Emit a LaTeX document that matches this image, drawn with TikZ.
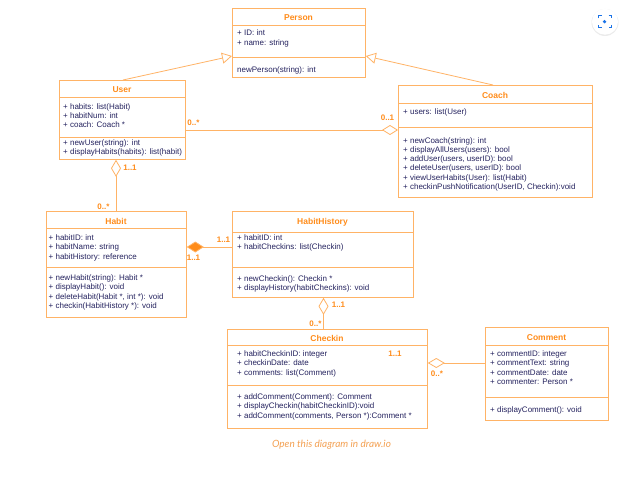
\documentclass[tikz,border=0pt]{standalone}
\usepackage{fontspec}
\setmainfont{Liberation Sans}
\newfontfamily\latofont{Lato}
\usetikzlibrary{arrows.meta,calc}
\definecolor{bord}{HTML}{FFB366}
\definecolor{ttl}{HTML}{FF8C1A}
\definecolor{ink}{HTML}{25235F}
\definecolor{linkc}{HTML}{F4A153}
\definecolor{iconblue}{HTML}{1A73E8}
\newcommand\umllines[5]{\foreach[count=\i] \t in {#5}{\node[txt] (#1-\i) at (#2,{#3+(\i-1)*#4}) {\t};}}
\newcommand\umldiv[2]{\draw[boxline] ($(#1.north west)+(0,#2)$) -- ($(#1.north east)+(0,#2)$);}
\begin{document}
\begin{tikzpicture}[x=1pt,y=-1pt,
  txt/.style={font=\fontsize{8}{9.5}\selectfont, text=ink, anchor=base west, inner sep=0},
  ttlstyle/.style={font=\fontsize{8.5}{10}\selectfont\bfseries, text=ttl, anchor=base, inner sep=0},
  mult/.style={font=\fontsize{8}{10}\selectfont\bfseries, text=ttl, anchor=base, inner sep=0},
  umlbox/.style={draw=bord, line width=0.8pt, fill=white, anchor=north west, inner sep=0},
  boxline/.style={draw=bord, line width=0.8pt},
  conn/.style={draw=bord, line width=0.8pt},
  inherit/.style={conn, -{Triangle[open, length=10pt, width=11pt]}},
  aggr/.style={conn, {Diamond[open, length=17pt, width=10pt]}-},
  comp/.style={conn, {Diamond[length=17pt, width=11pt, fill=ttl]}-}
]
\fill[white] (0,0) rectangle (630,487);
\useasboundingbox (0,0) rectangle (630,487);

% ---------- boxes ----------
\node[umlbox, minimum width=133pt, minimum height=69pt] (person) at (232,8) {};
\node[umlbox, minimum width=126pt, minimum height=79pt] (user) at (59,80) {};
\node[umlbox, minimum width=194pt, minimum height=112pt] (coach) at (398,85) {};
\node[umlbox, minimum width=140pt, minimum height=106pt] (habit) at (46,211) {};
\node[umlbox, minimum width=181pt, minimum height=86pt] (hh) at (232,211) {};
\node[umlbox, minimum width=200pt, minimum height=99pt] (checkin) at (227,329) {};
\node[umlbox, minimum width=123pt, minimum height=93pt] (comment) at (485,327) {};

% dividers
\umldiv{person}{17}\umldiv{person}{49}
\umldiv{user}{17}\umldiv{user}{57.5}
\umldiv{coach}{18}\umldiv{coach}{42}
\umldiv{habit}{17}\umldiv{habit}{56}
\umldiv{hh}{21}\umldiv{hh}{56}
\umldiv{checkin}{16}\umldiv{checkin}{56}
\umldiv{comment}{18}\umldiv{comment}{70}

% titles
\node[ttlstyle] (person-t) at (298.5,20.5) {Person};
\node[ttlstyle] (user-t) at (122,93) {User};
\node[ttlstyle] (coach-t) at (495,99) {Coach};
\node[ttlstyle] (habit-t) at (116,224) {Habit};
\node[ttlstyle] (hh-t) at (322.5,224) {HabitHistory};
\node[ttlstyle] (checkin-t) at (327,341) {Checkin};
\node[ttlstyle] (comment-t) at (546.5,340) {Comment};

% members
\umllines{pa}{237}{36}{9.6}{{+ ID: int},{+ name: string}}
\umllines{pm}{237}{73}{9.5}{{newPerson(string): int}}
\umllines{ua}{63}{109.5}{9.2}{{+ habits: list(Habit)},{+ habitNum: int},{+ coach: Coach *}}
\umllines{um}{63}{145.7}{9.2}{{+ newUser(string): int},{+ displayHabits(habits): list(habit)}}
\umllines{ca}{403}{115}{9.3}{{+ users: list(User)}}
\umllines{cm}{403}{143}{9.33}{{+ newCoach(string): int},{+ displayAllUsers(users): bool},{+ addUser(users, userID): bool},{+ deleteUser(users, userID): bool},{+ viewUserHabits(User): list(Habit)},{+ checkinPushNotification(UserID, Checkin):void}}
\umllines{ha}{48.5}{240}{9.5}{{+ habitID: int},{+ habitName: string},{+ habitHistory: reference}}
\umllines{hm}{48.5}{280.5}{9.45}{{+ newHabit(string): Habit *},{+ displayHabit(): void},{+ deleteHabit(Habit *, int *): void},{+ checkin(HabitHistory *): void}}
\umllines{hha}{237}{240}{9.7}{{+ habitID: int},{+ habitCheckins: list(Checkin)}}
\umllines{hhm}{237}{281}{9.7}{{+ newCheckin(): Checkin *},{+ displayHistory(habitCheckins): void}}
\umllines{cka}{237}{356}{9.7}{{+ habitCheckinID: integer},{+ checkinDate: date},{+ comments: list(Comment)}}
\umllines{ckm}{237}{399}{9.5}{{+ addComment(Comment): Comment},{+ displayCheckin(habitCheckinID):void},{+ addComment(comments, Person *):Comment *}}
\umllines{coa}{490}{356}{9.6}{{+ commentID: integer},{+ commentText: string},{+ commentDate: date},{+ commenter: Person *}}
\umllines{com}{490}{412}{9.5}{{+ displayComment(): void}}

% ---------- connectors ----------
\draw[inherit] ($(user.north west)+(64,0)$) -- ($(person.north west)+(0,48)$);
\draw[inherit] ($(coach.north west)+(95,0)$) -- ($(person.north east)+(0,48)$);
\draw[conn, -{Diamond[open, length=16pt, width=10pt]}] ($(user.north east)+(0,50)$) -- ($(coach.north west)+(0,45)$);
\draw[aggr] ($(user.south west)+(57,0)$) -- ($(habit.north west)+(70,0)$);
\draw[comp] ($(habit.north east)+(0,36)$) -- ($(hh.north west)+(0,36)$);
\draw[aggr] ($(hh.south west)+(91.5,0)$) -- ($(checkin.north west)+(96.5,0)$);
\draw[aggr] ($(checkin.north east)+(0,34)$) -- ($(comment.north west)+(0,36)$);

% multiplicities
\node[mult] (m1) at (193.5,125) {0..*};
\node[mult] (m2) at (387.5,121) {0..1};
\node[mult] (m3) at (130,170) {1..1};
\node[mult] (m4) at (103.5,209) {0..*};
\node[mult] (m5) at (223.5,242) {1..1};
\node[mult] (m6) at (193.5,260) {1..1};
\node[mult] (m7) at (338.5,307) {1..1};
\node[mult] (m8) at (315.5,326) {0..*};
\node[mult] (m9) at (395,356) {1..1};
\node[mult] (m10) at (437,376) {0..*};

% link text
\node[font=\latofont\itshape\fontsize{10}{12}\selectfont, text=linkc, anchor=base, inner sep=0] (link) at (331.5,447.5) {Open this diagram in draw.io};

% icon
\fill[black!8] (605,22.5) circle (13.5pt);
\fill[white] (605,21.7) circle (13pt);
\begin{scope}[draw=iconblue, line width=1pt]
\draw (598.5,18.5) -- (598.5,15.5) -- (601.5,15.5);
\draw (608.5,15.5) -- (611.5,15.5) -- (611.5,18.5);
\draw (611.5,25) -- (611.5,28) -- (608.5,28);
\draw (601.5,28) -- (598.5,28) -- (598.5,25);
\end{scope}
\fill[iconblue] (604.5,21.7) circle (1.8pt);
\end{tikzpicture}
\end{document}
